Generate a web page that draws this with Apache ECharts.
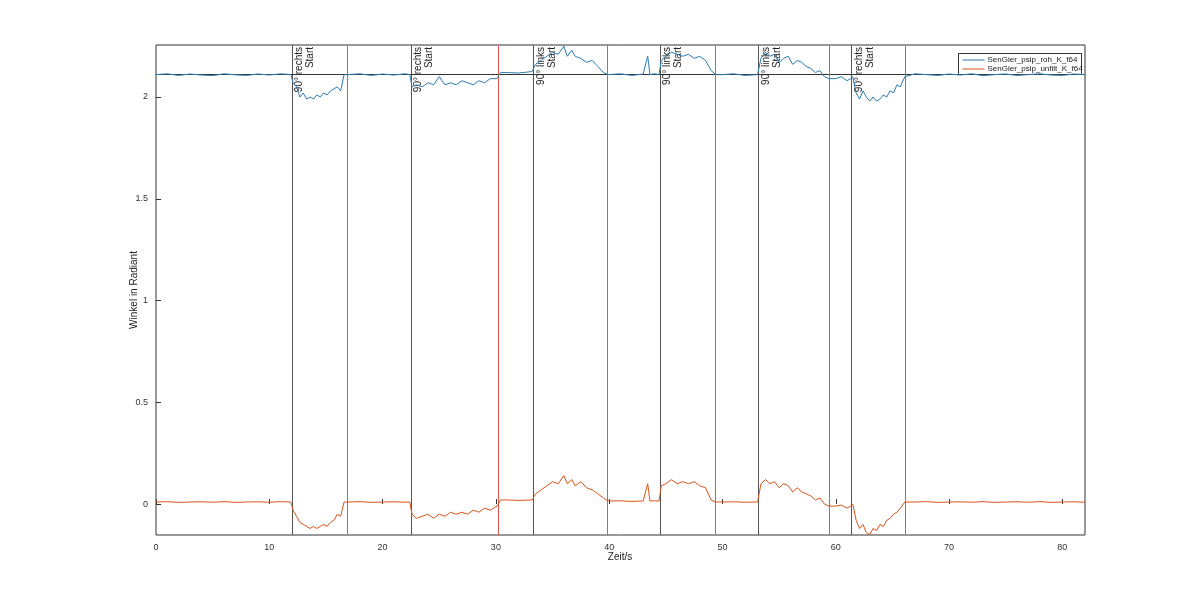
<!DOCTYPE html><html><head><meta charset="utf-8"><script src="https://cdn.jsdelivr.net/npm/echarts@6/dist/echarts.min.js"></script></head><body style="margin:0"><div id="c" style="width:1200px;height:602px"></div><script>
const startLines=[12.0,22.5,33.3,44.5,53.2,61.4];
const startLabels=['90° rechts','90° rechts','90° links','90° links','90° links','90° rechts'];
const endLines=[16.9,30.2,39.8,49.4,59.4,66.1];
const refLevel=2.108;
const seriesNames=['SenGier_psip_roh_K_f64','SenGier_psip_unfilt_K_f64'];
const blueT=[0,1,2,3,4,5,6,7,8,9,10,11,11.9,12.1,12.4,12.7,13.0,13.3,13.6,13.9,14.2,14.5,14.8,15.1,15.4,15.7,16.0,16.3,16.6,16.9,18,19,20,21,22,22.4,22.6,23,23.5,24,24.5,25,25.5,26,26.5,27,27.5,28,28.5,29,29.5,30.1,30.4,31,32,33.2,33.5,34,34.5,35,35.5,36,36.3,36.7,37,37.5,38,38.5,39,39.5,39.9,41,42,43,43.4,43.6,44,44.4,44.6,45,45.5,46,46.5,47,47.5,48,48.5,49,49.4,50,51,52,53.1,53.4,53.8,54.2,54.6,55,55.4,55.8,56.2,56.6,57,57.4,57.8,58.2,58.6,59,59.4,60,60.5,61,61.3,61.5,61.8,62.1,62.4,62.7,63,63.3,63.6,63.9,64.2,64.5,64.8,65.1,65.4,65.7,66.1,67,68,69,70,71,72,73,74,75,76,77,78,79,80,81,82];
const blueV=[2.11,2.114,2.106,2.113,2.108,2.105,2.114,2.109,2.106,2.113,2.108,2.114,2.11,2.07,2.05,2.0,2.02,1.99,2.0,1.99,2.01,2.0,2.02,2.01,2.03,2.04,2.05,2.03,2.11,2.11,2.114,2.106,2.113,2.108,2.114,2.11,2.05,2.06,2.05,2.07,2.06,2.1,2.06,2.07,2.06,2.08,2.07,2.06,2.08,2.07,2.09,2.09,2.12,2.12,2.118,2.125,2.16,2.18,2.2,2.22,2.21,2.25,2.2,2.23,2.2,2.19,2.17,2.18,2.15,2.12,2.11,2.114,2.106,2.113,2.2,2.11,2.114,2.11,2.18,2.2,2.22,2.21,2.2,2.21,2.19,2.2,2.18,2.13,2.11,2.11,2.114,2.106,2.11,2.19,2.22,2.2,2.21,2.17,2.19,2.2,2.16,2.18,2.17,2.15,2.14,2.12,2.13,2.1,2.09,2.09,2.1,2.08,2.09,2.1,2.02,1.99,2.03,2.0,1.98,2.0,1.98,1.99,2.01,2.0,2.03,2.02,2.06,2.05,2.1,2.114,2.11,2.106,2.113,2.108,2.114,2.105,2.11,2.113,2.106,2.11,2.114,2.108,2.106,2.113,2.11,2.11];
const orangeT=blueT;
const orangeV=[0.01,0.012,0.008,0.01,0.011,0.009,0.012,0.008,0.01,0.011,0.009,0.012,0.01,-0.03,-0.06,-0.09,-0.1,-0.11,-0.12,-0.11,-0.12,-0.11,-0.1,-0.11,-0.09,-0.08,-0.05,-0.06,0.01,0.01,0.012,0.008,0.01,0.011,0.009,0.01,-0.05,-0.07,-0.06,-0.05,-0.07,-0.05,-0.06,-0.04,-0.05,-0.04,-0.05,-0.03,-0.04,-0.02,-0.03,-0.01,0.02,0.02,0.018,0.02,0.05,0.07,0.09,0.11,0.1,0.14,0.1,0.12,0.09,0.11,0.08,0.07,0.05,0.03,0.015,0.016,0.013,0.015,0.1,0.015,0.016,0.015,0.09,0.1,0.12,0.1,0.11,0.1,0.11,0.09,0.08,0.02,0.01,0.01,0.011,0.009,0.01,0.1,0.12,0.1,0.11,0.08,0.1,0.09,0.06,0.08,0.06,0.05,0.04,0.02,0.03,0.0,-0.01,-0.01,-0.005,-0.02,-0.01,0.0,-0.08,-0.12,-0.1,-0.14,-0.15,-0.12,-0.13,-0.1,-0.11,-0.08,-0.07,-0.05,-0.04,-0.02,0.01,0.01,0.012,0.008,0.01,0.011,0.009,0.012,0.008,0.01,0.011,0.009,0.012,0.008,0.01,0.011,0.009,0.01];
const xTicks=[0,10,20,30,40,50,60,70,80];
const yTicks=[0,0.5,1,1.5,2];
const chart=echarts.init(document.getElementById('c'));
const BLK='#555', RED='#e0584f', BLUE='#2a7ab0', ORG='#d95319';
const blackML=startLines.map((x,i)=>({xAxis:x,lineStyle:{color:BLK,width:1,type:'solid'},label:{show:true,position:'insideEndBottom',formatter:startLabels[i]+'\nStart',color:'#222',fontSize:10,lineHeight:11,distance:2}}));
blackML.push({yAxis:refLevel,lineStyle:{color:'#333',width:1,type:'solid'},label:{show:false}});
const redML=endLines.map(x=>({xAxis:x,lineStyle:{color:RED,width:1,type:'solid'},label:{show:false}}));
chart.setOption({animation:false,
grid:{left:156,right:115,top:45,bottom:67,show:true,borderColor:'#333',borderWidth:1},
graphic:[
{type:'text',x:620,y:557,style:{text:'Zeit/s',fontSize:10,fill:'#222',align:'center',verticalAlign:'middle'}},
{type:'text',x:134,y:290,rotation:Math.PI/2,style:{text:'Winkel in Radiant',fontSize:10,fill:'#222',align:'center',verticalAlign:'middle'}},
{type:'group',left:958,top:53,children:[
 {type:'rect',shape:{x:0,y:0,width:123,height:21},style:{fill:'#fff',stroke:'#333',lineWidth:1}},
 {type:'line',shape:{x1:4,y1:6.5,x2:26,y2:6.5},style:{stroke:BLUE,lineWidth:1}},
 {type:'line',shape:{x1:4,y1:15.5,x2:26,y2:15.5},style:{stroke:ORG,lineWidth:1}},
 {type:'text',x:29,y:6.5,style:{text:seriesNames[0],fontSize:8,fill:'#222',verticalAlign:'middle'}},
 {type:'text',x:29,y:15.5,style:{text:seriesNames[1],fontSize:8,fill:'#222',verticalAlign:'middle'}}
]}],
xAxis:{type:'value',min:0,max:82,axisLine:{show:false},axisTick:{inside:true,length:5,lineStyle:{color:'#333'},customValues:xTicks},axisLabel:{fontSize:9,color:'#333',customValues:xTicks},splitLine:{show:false}},
yAxis:{type:'value',min:-0.152,max:2.2555,axisLine:{show:false},axisTick:{inside:true,length:5,lineStyle:{color:'#333'},customValues:yTicks},axisLabel:{fontSize:9,color:'#333',customValues:yTicks},splitLine:{show:false}},
series:[
{name:'refBlack',type:'line',z:1,data:[],color:BLK,markLine:{symbol:'none',silent:true,z:1,data:blackML}},
{name:'refRed',type:'line',z:1,data:[],color:RED,markLine:{symbol:'none',silent:true,z:1,data:redML}},
{name:seriesNames[0],type:'line',showSymbol:false,symbol:'none',z:3,color:BLUE,lineStyle:{width:1,color:BLUE},data:blueT.map((t,i)=>[t,blueV[i]])},
{name:seriesNames[1],type:'line',showSymbol:false,symbol:'none',z:3,color:ORG,lineStyle:{width:1,color:ORG},data:orangeT.map((t,i)=>[t,orangeV[i]])}
]});
</script></body></html>
